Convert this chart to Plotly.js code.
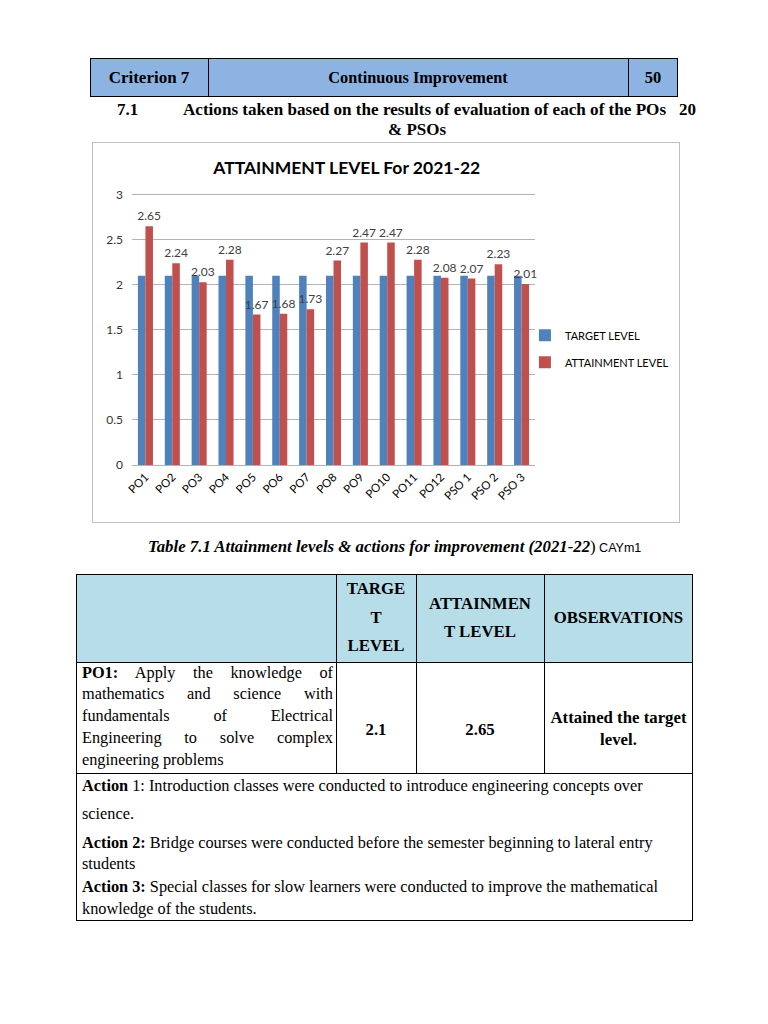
<!DOCTYPE html>
<html>
<head>
<meta charset="utf-8">
<script src="https://cdn.plot.ly/plotly-3.0.1.min.js"></script>
<style>
  html, body { margin:0; padding:0; background:#fff; }
  body { width:768px; height:1024px; position:relative; overflow:hidden; font-family:"Liberation Serif", serif; color:#000; }
  .abs { position:absolute; }
  .b { font-weight:bold; }
  .cell { position:absolute; box-sizing:border-box; display:flex; align-items:center; justify-content:center; text-align:center; }
  .ln { position:absolute; font-size:16.3px; line-height:19px; white-space:nowrap; }
  .just { text-align:justify; text-align-last:justify; white-space:normal; }
</style>
</head>
<body>
<!-- Criterion header table -->
<div class="abs" style="left:90px;top:58px;width:588px;height:39px;background:#8DB3E2;border:1px solid #000;box-sizing:border-box;"></div>
<div class="abs" style="left:208px;top:58px;width:1px;height:39px;background:#000;"></div>
<div class="abs" style="left:628px;top:58px;width:1px;height:39px;background:#000;"></div>
<div class="cell b" style="left:90px;top:58px;width:118px;height:39px;font-size:17px;">Criterion 7</div>
<div class="cell b" style="left:208px;top:58px;width:420px;height:39px;font-size:16.3px;">Continuous Improvement</div>
<div class="cell b" style="left:628px;top:58px;width:50px;height:39px;font-size:16.5px;">50</div>

<div class="ln b" style="left:117px;top:100px;font-size:17px;">7.1</div>
<div class="ln b" style="left:183px;top:100px;font-size:17.1px;">Actions taken based on the results of evaluation of each of the POs</div>
<div class="ln b" style="left:679px;top:100px;font-size:17px;">20</div>
<div class="ln b" style="left:388px;top:120px;font-size:17px;">&amp; PSOs</div>

<!-- Chart frame -->
<div class="abs" style="left:92px;top:142px;width:588px;height:381px;border:1px solid #BFBFBF;box-sizing:border-box;"></div>
<div id="chart" class="abs" style="left:92px;top:142px;width:587px;height:380px;"></div>

<!-- Caption -->
<div class="ln b" style="left:148px;top:537px;font-size:16.8px;font-style:italic;">Table 7.1 Attainment levels &amp; actions for improvement (2021-22<span style="font-style:normal;font-weight:normal;">)</span><span style="font-family:'Liberation Sans',sans-serif;font-weight:normal;font-style:normal;font-size:12.5px;"> CAYm1</span></div>

<!-- Main table -->
<div class="abs" style="left:76px;top:574px;width:617px;height:89px;background:#B6DDE8;"></div>
<div class="abs" style="left:76px;top:574px;width:617px;height:347px;border:1px solid #000;box-sizing:border-box;"></div>
<div class="abs" style="left:76px;top:662px;width:617px;height:1px;background:#000;"></div>
<div class="abs" style="left:76px;top:773px;width:617px;height:1px;background:#000;"></div>
<div class="abs" style="left:336px;top:574px;width:1px;height:199px;background:#000;"></div>
<div class="abs" style="left:416px;top:574px;width:1px;height:199px;background:#000;"></div>
<div class="abs" style="left:544px;top:574px;width:1px;height:199px;background:#000;"></div>

<div class="cell b" style="left:336px;top:574px;width:80px;height:88px;font-size:16.8px;line-height:28.5px;">TARGE<br>T<br>LEVEL</div>
<div class="cell b" style="left:416px;top:574px;width:128px;height:88px;font-size:16.8px;line-height:28.5px;">ATTAINMEN<br>T LEVEL</div>
<div class="cell b" style="left:544px;top:574px;width:149px;height:88px;font-size:16.8px;">OBSERVATIONS</div>

<div class="ln just" style="left:82px;top:663px;width:251px;"><b>PO1:</b> Apply the knowledge of</div>
<div class="ln just" style="left:82px;top:684px;width:251px;">mathematics and science with</div>
<div class="ln just" style="left:82px;top:706px;width:251px;">fundamentals of Electrical</div>
<div class="ln just" style="left:82px;top:728px;width:251px;">Engineering to solve complex</div>
<div class="ln" style="left:82px;top:750px;">engineering problems</div>

<div class="cell b" style="left:336px;top:663px;width:80px;height:134px;font-size:16.8px;">2.1</div>
<div class="cell b" style="left:416px;top:663px;width:128px;height:134px;font-size:16.8px;">2.65</div>
<div class="cell b" style="left:544px;top:663px;width:149px;height:110px;font-size:16.8px;line-height:22px;padding-top:22px;">Attained the target<br>level.</div>

<div class="ln" style="left:82px;top:776px;"><b>Action</b> 1: Introduction classes were conducted to introduce engineering concepts over</div>
<div class="ln" style="left:82px;top:804px;">science.</div>
<div class="ln" style="left:82px;top:833px;"><b>Action 2:</b> Bridge courses were conducted before the semester beginning to lateral entry</div>
<div class="ln" style="left:82px;top:854px;">students</div>
<div class="ln" style="left:82px;top:877px;"><b>Action 3:</b> Special classes for slow learners were conducted to improve the mathematical</div>
<div class="ln" style="left:82px;top:899px;">knowledge of the students.</div>

<script>
const categories = ['PO1','PO2','PO3','PO4','PO5','PO6','PO7','PO8','PO9','PO10','PO11','PO12','PSO 1','PSO 2','PSO 3'];
const targetLevel = [2.1,2.1,2.1,2.1,2.1,2.1,2.1,2.1,2.1,2.1,2.1,2.1,2.1,2.1,2.1];
const attainmentLevel = [2.65,2.24,2.03,2.28,1.67,1.68,1.73,2.27,2.47,2.47,2.28,2.08,2.07,2.23,2.01];
const yTicks = [0,0.5,1,1.5,2,2.5,3];
const yTickLabels = ['0','0.5','1','1.5','2','2.5','3'];

const font = 'Lato, "Open Sans", sans-serif';
const traces = [
  { type:'bar', name:'TARGET LEVEL', x:categories, y:targetLevel, marker:{color:'#4F81BD'},
    legendgroup:'a', hoverinfo:'skip' },
  { type:'bar', name:'ATTAINMENT LEVEL', x:categories, y:attainmentLevel, marker:{color:'#C0504D'},
    legendgroup:'b', text:attainmentLevel.map(v=>v.toFixed(2)), textposition:'outside',
    constraintext:'none', cliponaxis:false,
    textfont:{family:font, size:12, color:'#404040'}, hoverinfo:'skip' }
];
const layout = {
  width:587, height:380,
  margin:{l:40, r:144, t:51, b:57, autoexpand:false},
  paper_bgcolor:'rgba(0,0,0,0)', plot_bgcolor:'#fff',
  title:{text:'<b>ATTAINMENT LEVEL For 2021-22</b>', font:{family:font, size:17.5, color:'#000'}, x:0.434, xanchor:'center', xref:'container', y:0.932, yref:'container', yanchor:'middle'},
  barmode:'group', bargap:0.44, bargroupgap:0,
  showlegend:true,
  legend:{x:0.975, xanchor:'left', y:0.53, yanchor:'top', font:{family:font, size:11, color:'#000'}, tracegroupgap:8, bgcolor:'rgba(0,0,0,0)', itemwidth:30},
  xaxis:{tickangle:-45, tickfont:{family:font, size:11.5, color:'#000'}, showline:true, linecolor:'#B3B3B3', linewidth:1, ticks:'', showgrid:false, automargin:false},
  yaxis:{range:[0,3.02], tickvals:yTicks, ticktext:yTickLabels, tickfont:{family:font, size:12, color:'#333'}, gridcolor:'#B3B3B3', gridwidth:1, showline:false, zeroline:false, ticks:'', ticklabelstandoff:8, automargin:false}
};
Plotly.newPlot('chart', traces, layout, {staticPlot:true, displayModeBar:false});
</script>
</body>
</html>
